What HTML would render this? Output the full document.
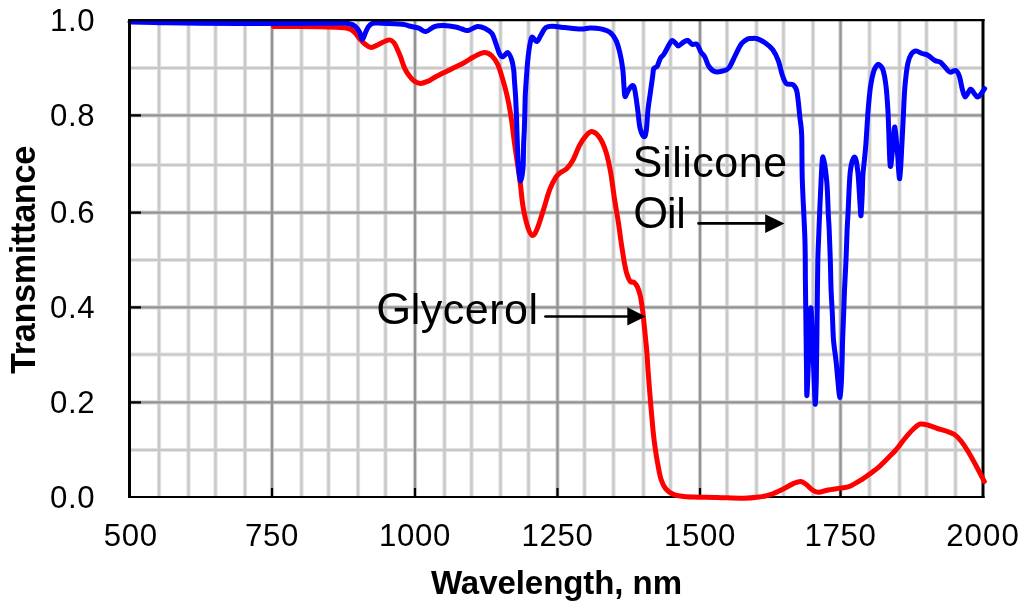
<!DOCTYPE html>
<html><head><meta charset="utf-8"><title>Transmittance vs Wavelength</title>
<style>
html,body{margin:0;padding:0;background:#fff;}
body{width:1024px;height:607px;overflow:hidden;}
svg{display:block;}
text{font-family:"Liberation Sans",Arial,sans-serif;fill:#000;}
</style></head><body>
<svg width="1024" height="607" viewBox="0 0 1024 607">

<rect x="0" y="0" width="1024" height="607" fill="#fff"/>
<g>
<g id="grid">
<line x1="159.00" y1="20" x2="159.00" y2="497" stroke="#e2e2e2" stroke-width="4.20"/>
<line x1="188.50" y1="20" x2="188.50" y2="497" stroke="#e2e2e2" stroke-width="4.20"/>
<line x1="215.50" y1="20" x2="215.50" y2="497" stroke="#e2e2e2" stroke-width="4.20"/>
<line x1="245.00" y1="20" x2="245.00" y2="497" stroke="#e2e2e2" stroke-width="4.20"/>
<line x1="301.50" y1="20" x2="301.50" y2="497" stroke="#e2e2e2" stroke-width="4.20"/>
<line x1="328.50" y1="20" x2="328.50" y2="497" stroke="#e2e2e2" stroke-width="4.20"/>
<line x1="358.00" y1="20" x2="358.00" y2="497" stroke="#e2e2e2" stroke-width="4.20"/>
<line x1="385.50" y1="20" x2="385.50" y2="497" stroke="#e2e2e2" stroke-width="4.20"/>
<line x1="444.50" y1="20" x2="444.50" y2="497" stroke="#e2e2e2" stroke-width="4.20"/>
<line x1="471.50" y1="20" x2="471.50" y2="497" stroke="#e2e2e2" stroke-width="4.20"/>
<line x1="500.50" y1="20" x2="500.50" y2="497" stroke="#e2e2e2" stroke-width="4.20"/>
<line x1="528.50" y1="20" x2="528.50" y2="497" stroke="#e2e2e2" stroke-width="4.20"/>
<line x1="584.50" y1="20" x2="584.50" y2="497" stroke="#e2e2e2" stroke-width="4.20"/>
<line x1="613.50" y1="20" x2="613.50" y2="497" stroke="#e2e2e2" stroke-width="4.20"/>
<line x1="643.50" y1="20" x2="643.50" y2="497" stroke="#e2e2e2" stroke-width="4.20"/>
<line x1="670.50" y1="20" x2="670.50" y2="497" stroke="#e2e2e2" stroke-width="4.20"/>
<line x1="727.00" y1="20" x2="727.00" y2="497" stroke="#e2e2e2" stroke-width="4.20"/>
<line x1="756.50" y1="20" x2="756.50" y2="497" stroke="#e2e2e2" stroke-width="4.20"/>
<line x1="783.50" y1="20" x2="783.50" y2="497" stroke="#e2e2e2" stroke-width="4.20"/>
<line x1="813.00" y1="20" x2="813.00" y2="497" stroke="#e2e2e2" stroke-width="4.20"/>
<line x1="869.50" y1="20" x2="869.50" y2="497" stroke="#e2e2e2" stroke-width="4.20"/>
<line x1="899.50" y1="20" x2="899.50" y2="497" stroke="#e2e2e2" stroke-width="4.20"/>
<line x1="926.50" y1="20" x2="926.50" y2="497" stroke="#e2e2e2" stroke-width="4.20"/>
<line x1="955.50" y1="20" x2="955.50" y2="497" stroke="#e2e2e2" stroke-width="4.20"/>
<line x1="129" y1="68.00" x2="983" y2="68.00" stroke="#e2e2e2" stroke-width="4.20"/>
<line x1="129" y1="165.00" x2="983" y2="165.00" stroke="#e2e2e2" stroke-width="4.20"/>
<line x1="129" y1="260.00" x2="983" y2="260.00" stroke="#e2e2e2" stroke-width="4.20"/>
<line x1="129" y1="354.50" x2="983" y2="354.50" stroke="#e2e2e2" stroke-width="4.20"/>
<line x1="129" y1="450.00" x2="983" y2="450.00" stroke="#e2e2e2" stroke-width="4.20"/>
<line x1="272.00" y1="20" x2="272.00" y2="497" stroke="#d6d6d6" stroke-width="4.20"/>
<line x1="415.00" y1="20" x2="415.00" y2="497" stroke="#d6d6d6" stroke-width="4.20"/>
<line x1="557.50" y1="20" x2="557.50" y2="497" stroke="#d6d6d6" stroke-width="4.20"/>
<line x1="700.00" y1="20" x2="700.00" y2="497" stroke="#d6d6d6" stroke-width="4.20"/>
<line x1="840.50" y1="20" x2="840.50" y2="497" stroke="#d6d6d6" stroke-width="4.20"/>
<line x1="129" y1="115.40" x2="983" y2="115.40" stroke="#d6d6d6" stroke-width="4.20"/>
<line x1="129" y1="212.60" x2="983" y2="212.60" stroke="#d6d6d6" stroke-width="4.20"/>
<line x1="129" y1="307.40" x2="983" y2="307.40" stroke="#d6d6d6" stroke-width="4.20"/>
<line x1="129" y1="402.40" x2="983" y2="402.40" stroke="#d6d6d6" stroke-width="4.20"/>
<line x1="159.00" y1="20" x2="159.00" y2="497" stroke="#c8c8c8" stroke-width="2.20"/>
<line x1="188.50" y1="20" x2="188.50" y2="497" stroke="#c8c8c8" stroke-width="2.20"/>
<line x1="215.50" y1="20" x2="215.50" y2="497" stroke="#c8c8c8" stroke-width="2.20"/>
<line x1="245.00" y1="20" x2="245.00" y2="497" stroke="#c8c8c8" stroke-width="2.20"/>
<line x1="301.50" y1="20" x2="301.50" y2="497" stroke="#c8c8c8" stroke-width="2.20"/>
<line x1="328.50" y1="20" x2="328.50" y2="497" stroke="#c8c8c8" stroke-width="2.20"/>
<line x1="358.00" y1="20" x2="358.00" y2="497" stroke="#c8c8c8" stroke-width="2.20"/>
<line x1="385.50" y1="20" x2="385.50" y2="497" stroke="#c8c8c8" stroke-width="2.20"/>
<line x1="444.50" y1="20" x2="444.50" y2="497" stroke="#c8c8c8" stroke-width="2.20"/>
<line x1="471.50" y1="20" x2="471.50" y2="497" stroke="#c8c8c8" stroke-width="2.20"/>
<line x1="500.50" y1="20" x2="500.50" y2="497" stroke="#c8c8c8" stroke-width="2.20"/>
<line x1="528.50" y1="20" x2="528.50" y2="497" stroke="#c8c8c8" stroke-width="2.20"/>
<line x1="584.50" y1="20" x2="584.50" y2="497" stroke="#c8c8c8" stroke-width="2.20"/>
<line x1="613.50" y1="20" x2="613.50" y2="497" stroke="#c8c8c8" stroke-width="2.20"/>
<line x1="643.50" y1="20" x2="643.50" y2="497" stroke="#c8c8c8" stroke-width="2.20"/>
<line x1="670.50" y1="20" x2="670.50" y2="497" stroke="#c8c8c8" stroke-width="2.20"/>
<line x1="727.00" y1="20" x2="727.00" y2="497" stroke="#c8c8c8" stroke-width="2.20"/>
<line x1="756.50" y1="20" x2="756.50" y2="497" stroke="#c8c8c8" stroke-width="2.20"/>
<line x1="783.50" y1="20" x2="783.50" y2="497" stroke="#c8c8c8" stroke-width="2.20"/>
<line x1="813.00" y1="20" x2="813.00" y2="497" stroke="#c8c8c8" stroke-width="2.20"/>
<line x1="869.50" y1="20" x2="869.50" y2="497" stroke="#c8c8c8" stroke-width="2.20"/>
<line x1="899.50" y1="20" x2="899.50" y2="497" stroke="#c8c8c8" stroke-width="2.20"/>
<line x1="926.50" y1="20" x2="926.50" y2="497" stroke="#c8c8c8" stroke-width="2.20"/>
<line x1="955.50" y1="20" x2="955.50" y2="497" stroke="#c8c8c8" stroke-width="2.20"/>
<line x1="129" y1="68.00" x2="983" y2="68.00" stroke="#c8c8c8" stroke-width="2.20"/>
<line x1="129" y1="165.00" x2="983" y2="165.00" stroke="#c8c8c8" stroke-width="2.20"/>
<line x1="129" y1="260.00" x2="983" y2="260.00" stroke="#c8c8c8" stroke-width="2.20"/>
<line x1="129" y1="354.50" x2="983" y2="354.50" stroke="#c8c8c8" stroke-width="2.20"/>
<line x1="129" y1="450.00" x2="983" y2="450.00" stroke="#c8c8c8" stroke-width="2.20"/>
<line x1="272.00" y1="20" x2="272.00" y2="497" stroke="#939393" stroke-width="2.20"/>
<line x1="415.00" y1="20" x2="415.00" y2="497" stroke="#939393" stroke-width="2.20"/>
<line x1="557.50" y1="20" x2="557.50" y2="497" stroke="#939393" stroke-width="2.20"/>
<line x1="700.00" y1="20" x2="700.00" y2="497" stroke="#939393" stroke-width="2.20"/>
<line x1="840.50" y1="20" x2="840.50" y2="497" stroke="#939393" stroke-width="2.20"/>
<line x1="129" y1="115.40" x2="983" y2="115.40" stroke="#939393" stroke-width="2.20"/>
<line x1="129" y1="212.60" x2="983" y2="212.60" stroke="#939393" stroke-width="2.20"/>
<line x1="129" y1="307.40" x2="983" y2="307.40" stroke="#939393" stroke-width="2.20"/>
<line x1="129" y1="402.40" x2="983" y2="402.40" stroke="#939393" stroke-width="2.20"/>
</g>
<g id="axes1" fill="none" stroke="#000">
<line x1="983" y1="19" x2="983" y2="498" stroke-width="3"/>
<line x1="128" y1="497" x2="984.5" y2="497" stroke-width="2"/>
</g>
<g id="ticks">
<line x1="130" y1="115.40" x2="141" y2="115.40" stroke="#000" stroke-width="2.3"/>
<line x1="130" y1="212.60" x2="141" y2="212.60" stroke="#000" stroke-width="2.3"/>
<line x1="130" y1="307.40" x2="141" y2="307.40" stroke="#000" stroke-width="2.3"/>
<line x1="130" y1="402.40" x2="141" y2="402.40" stroke="#000" stroke-width="2.3"/>
<line x1="272.00" y1="488" x2="272.00" y2="497" stroke="#000" stroke-width="2.2"/>
<line x1="415.00" y1="488" x2="415.00" y2="497" stroke="#000" stroke-width="2.2"/>
<line x1="557.50" y1="488" x2="557.50" y2="497" stroke="#000" stroke-width="2.2"/>
<line x1="700.00" y1="488" x2="700.00" y2="497" stroke="#000" stroke-width="2.2"/>
<line x1="840.50" y1="488" x2="840.50" y2="497" stroke="#000" stroke-width="2.2"/>
</g>
<g id="labels">
<text font-size="31.20" letter-spacing="0.700" text-anchor="end" x="95.40" y="30.50">1.0</text>
<text font-size="31.20" letter-spacing="0.700" text-anchor="end" x="95.40" y="125.70">0.8</text>
<text font-size="31.20" letter-spacing="0.700" text-anchor="end" x="95.40" y="222.70">0.6</text>
<text font-size="31.20" letter-spacing="0.700" text-anchor="end" x="95.40" y="317.50">0.4</text>
<text font-size="31.20" letter-spacing="0.700" text-anchor="end" x="95.40" y="412.70">0.2</text>
<text font-size="31.20" letter-spacing="0.700" text-anchor="end" x="95.40" y="507.70">0.0</text>
<text font-size="31.20" letter-spacing="0.700" text-anchor="middle" x="130.70" y="545.70">500</text>
<text font-size="31.20" letter-spacing="0.700" text-anchor="middle" x="272.00" y="545.70">750</text>
<text font-size="31.20" letter-spacing="0.700" text-anchor="middle" x="415.00" y="545.70">1000</text>
<text font-size="31.20" letter-spacing="0.700" text-anchor="middle" x="557.50" y="545.70">1250</text>
<text font-size="31.20" letter-spacing="0.700" text-anchor="middle" x="700.00" y="545.70">1500</text>
<text font-size="31.20" letter-spacing="0.700" text-anchor="middle" x="840.50" y="545.70">1750</text>
<text font-size="31.20" letter-spacing="1.050" text-anchor="middle" x="983.00" y="545.70">2000</text>
<text font-size="33.00" letter-spacing="-0.060" font-weight="bold" x="431.00" y="593.60">Wavelength, nm</text>
<text font-size="34.30" letter-spacing="-0.360" font-weight="bold" transform="translate(35.00,374.00) rotate(-90)">Transmittance</text>
<text font-size="43.00" letter-spacing="0.500" x="632.60" y="176.90"><tspan font-size="44.90">S</tspan><tspan dx="-0.90">ilicone</tspan></text>
<text font-size="43.00" letter-spacing="-0.350" x="633.30" y="227.90"><tspan font-size="44.90">O</tspan><tspan dx="-0.90">il</tspan></text>
<text font-size="43.00" letter-spacing="0.500" x="376.20" y="323.90"><tspan font-size="44.90">G</tspan><tspan dx="-0.90">lycerol</tspan></text>
</g>
<g id="curves" fill="none" stroke-linejoin="round" stroke-linecap="round">
<path d="M273.50,26.50 C277.92,26.48 292.25,26.37 300.00,26.40 C307.75,26.43 313.33,26.53 320.00,26.70 C326.67,26.87 335.50,27.15 340.00,27.40 C344.50,27.65 345.17,27.85 347.00,28.20 C348.83,28.55 349.63,28.70 351.00,29.50 C352.37,30.30 353.70,31.38 355.20,33.00 C356.70,34.62 358.38,37.37 360.00,39.20 C361.62,41.03 363.05,42.62 364.90,44.00 C366.75,45.38 368.92,47.38 371.10,47.50 C373.28,47.62 375.68,45.73 378.00,44.70 C380.32,43.67 383.03,42.10 385.00,41.30 C386.97,40.50 388.30,39.67 389.80,39.90 C391.30,40.13 392.77,41.18 394.00,42.70 C395.23,44.22 396.10,46.62 397.20,49.00 C398.30,51.38 399.33,53.73 400.60,57.00 C401.87,60.27 403.27,65.35 404.80,68.60 C406.33,71.85 408.15,74.37 409.80,76.50 C411.45,78.63 412.90,80.25 414.70,81.40 C416.50,82.55 418.47,83.40 420.60,83.40 C422.73,83.40 425.18,82.38 427.50,81.40 C429.82,80.42 431.70,78.98 434.50,77.50 C437.30,76.02 441.02,74.15 444.30,72.50 C447.58,70.85 450.90,69.23 454.20,67.60 C457.50,65.97 460.80,64.52 464.10,62.70 C467.40,60.88 470.60,58.40 474.00,56.70 C477.40,55.00 481.50,52.62 484.50,52.50 C487.50,52.38 489.77,53.95 492.00,56.00 C494.23,58.05 496.10,60.87 497.90,64.80 C499.70,68.73 501.32,74.65 502.80,79.60 C504.28,84.55 505.63,89.55 506.80,94.50 C507.97,99.45 508.97,104.72 509.80,109.30 C510.63,113.88 511.03,116.47 511.80,122.00 C512.57,127.53 513.40,135.17 514.40,142.50 C515.40,149.83 516.82,159.18 517.80,166.00 C518.78,172.82 519.42,176.58 520.30,183.40 C521.18,190.22 521.85,199.60 523.10,206.90 C524.35,214.20 526.23,222.43 527.80,227.20 C529.37,231.97 530.93,235.24 532.50,235.50 C534.07,235.76 535.38,233.00 537.20,228.75 C539.02,224.50 541.32,216.51 543.40,210.00 C545.48,203.49 547.62,195.17 549.70,189.70 C551.78,184.23 554.08,180.07 555.90,177.20 C557.72,174.33 558.77,173.93 560.60,172.50 C562.43,171.07 564.83,170.68 566.90,168.60 C568.97,166.52 570.92,163.83 573.00,160.00 C575.08,156.17 577.30,149.56 579.40,145.60 C581.50,141.64 583.52,138.58 585.60,136.25 C587.68,133.92 589.55,131.34 591.90,131.60 C594.25,131.86 597.35,134.42 599.70,137.80 C602.05,141.18 604.18,146.20 606.00,151.90 C607.82,157.60 609.18,164.15 610.60,172.00 C612.02,179.85 613.20,190.58 614.50,199.00 C615.80,207.42 617.35,215.67 618.40,222.50 C619.45,229.33 620.10,235.13 620.80,240.00 C621.50,244.87 621.98,247.80 622.60,251.70 C623.22,255.60 623.78,259.68 624.50,263.40 C625.22,267.12 625.92,270.97 626.90,274.00 C627.88,277.03 629.23,280.23 630.40,281.60 C631.57,282.97 632.73,281.32 633.90,282.20 C635.07,283.08 636.32,284.55 637.40,286.90 C638.48,289.25 639.52,292.28 640.40,296.30 C641.28,300.32 642.07,306.22 642.70,311.00 C643.33,315.78 643.73,320.50 644.20,325.00 C644.67,329.50 645.05,333.37 645.50,338.00 C645.95,342.63 646.47,347.30 646.90,352.80 C647.33,358.30 647.52,363.10 648.10,371.00 C648.68,378.90 649.58,390.37 650.40,400.20 C651.22,410.03 652.22,422.10 653.00,430.00 C653.78,437.90 654.27,441.73 655.10,447.60 C655.93,453.47 657.02,459.93 658.00,465.20 C658.98,470.47 659.73,475.30 661.00,479.20 C662.27,483.10 663.65,486.15 665.60,488.60 C667.55,491.05 669.97,492.63 672.70,493.90 C675.43,495.17 678.48,495.68 682.00,496.20 C685.52,496.72 687.93,496.78 693.80,497.00 C699.67,497.22 708.88,497.28 717.20,497.50 C725.53,497.72 736.72,498.38 743.75,498.30 C750.78,498.22 754.98,497.60 759.40,497.00 C763.82,496.40 766.40,496.00 770.30,494.70 C774.20,493.40 778.89,491.08 782.80,489.20 C786.71,487.32 790.75,484.70 793.75,483.40 C796.75,482.10 798.72,481.22 800.80,481.40 C802.88,481.58 804.30,483.07 806.25,484.50 C808.20,485.93 810.42,488.70 812.50,490.00 C814.58,491.30 816.17,492.30 818.75,492.30 C821.33,492.30 824.36,490.70 828.00,490.00 C831.64,489.30 836.93,488.73 840.60,488.10 C844.27,487.47 846.40,487.67 850.00,486.20 C853.60,484.73 858.78,481.42 862.20,479.30 C865.62,477.18 867.65,475.62 870.50,473.50 C873.35,471.38 876.47,469.10 879.30,466.60 C882.13,464.10 884.67,461.35 887.50,458.50 C890.33,455.65 893.48,452.75 896.30,449.50 C899.12,446.25 901.55,442.42 904.40,439.00 C907.25,435.58 910.72,431.50 913.40,429.00 C916.08,426.50 917.90,424.58 920.50,424.00 C923.10,423.42 926.18,424.75 929.00,425.50 C931.82,426.25 934.57,427.58 937.40,428.50 C940.23,429.42 943.15,430.00 946.00,431.00 C948.85,432.00 952.00,432.83 954.50,434.50 C957.00,436.17 958.73,438.17 961.00,441.00 C963.27,443.83 965.52,447.25 968.10,451.50 C970.68,455.75 973.80,461.50 976.50,466.50 C979.20,471.50 983.00,479.00 984.30,481.50" stroke="#ff0000" stroke-width="5.0"/>
<path d="M130.00,22.00 C135.00,22.12 148.33,22.50 160.00,22.70 C171.67,22.90 181.67,23.07 200.00,23.20 C218.33,23.33 250.00,23.48 270.00,23.50 C290.00,23.52 308.33,23.37 320.00,23.30 C331.67,23.23 334.93,22.98 340.00,23.10 C345.07,23.22 347.87,23.45 350.40,24.00 C352.93,24.55 353.70,25.13 355.20,26.40 C356.70,27.67 358.22,29.40 359.40,31.60 C360.58,33.80 361.27,39.48 362.30,39.60 C363.33,39.72 364.58,34.43 365.60,32.30 C366.62,30.17 367.25,28.30 368.40,26.80 C369.55,25.30 370.32,23.90 372.50,23.30 C374.68,22.70 376.55,23.05 381.50,23.20 C386.45,23.35 397.58,23.73 402.20,24.20 C406.82,24.67 406.44,25.33 409.20,26.00 C411.96,26.67 415.98,27.27 418.75,28.20 C421.52,29.13 423.19,31.87 425.80,31.60 C428.41,31.33 431.41,27.60 434.40,26.60 C437.39,25.60 440.22,25.53 443.75,25.60 C447.28,25.67 452.56,26.43 455.60,27.00 C458.64,27.57 459.93,28.42 462.00,29.00 C464.07,29.58 465.42,30.92 468.00,30.50 C470.58,30.08 474.60,26.82 477.50,26.50 C480.40,26.18 483.00,27.45 485.40,28.60 C487.80,29.75 490.12,30.82 491.90,33.40 C493.68,35.98 494.83,40.70 496.10,44.10 C497.37,47.50 498.35,51.68 499.50,53.80 C500.65,55.92 501.62,57.02 503.00,56.80 C504.38,56.58 506.35,51.98 507.80,52.50 C509.25,53.02 510.72,57.02 511.70,59.90 C512.68,62.78 513.25,66.45 513.70,69.80 C514.15,73.15 514.10,75.80 514.40,80.00 C514.70,84.20 515.22,90.33 515.50,95.00 C515.78,99.67 515.92,103.83 516.10,108.00 C516.28,112.17 516.38,113.83 516.60,120.00 C516.82,126.17 517.10,137.50 517.40,145.00 C517.70,152.50 518.07,160.00 518.40,165.00 C518.73,170.00 519.03,172.33 519.40,175.00 C519.77,177.67 520.13,181.00 520.60,181.00 C521.07,181.00 521.77,177.67 522.20,175.00 C522.63,172.33 522.97,170.00 523.20,165.00 C523.43,160.00 523.42,150.83 523.60,145.00 C523.78,139.17 524.08,135.83 524.30,130.00 C524.52,124.17 524.75,115.50 524.90,110.00 C525.05,104.50 525.08,100.42 525.20,97.00 C525.32,93.58 525.37,93.17 525.60,89.50 C525.83,85.83 526.27,79.58 526.60,75.00 C526.93,70.42 527.20,66.17 527.60,62.00 C528.00,57.83 528.52,53.42 529.00,50.00 C529.48,46.58 529.95,43.67 530.50,41.50 C531.05,39.33 531.22,37.00 532.30,37.00 C533.38,37.00 535.52,41.90 537.00,41.50 C538.48,41.10 539.72,36.93 541.20,34.60 C542.68,32.27 543.93,28.88 545.90,27.50 C547.87,26.12 549.82,26.28 553.00,26.30 C556.18,26.32 560.40,27.15 565.00,27.60 C569.60,28.05 576.43,28.93 580.60,29.00 C584.77,29.07 586.87,28.07 590.00,28.00 C593.13,27.93 596.15,27.93 599.40,28.60 C602.65,29.27 606.77,30.10 609.50,32.00 C612.23,33.90 614.10,36.63 615.80,40.00 C617.50,43.37 618.53,47.30 619.70,52.20 C620.87,57.10 622.08,63.68 622.80,69.40 C623.52,75.12 623.63,81.98 624.00,86.50 C624.37,91.02 624.25,95.92 625.00,96.50 C625.75,97.08 627.25,91.85 628.50,90.00 C629.75,88.15 631.45,85.40 632.50,85.40 C633.55,85.40 633.93,85.97 634.80,90.00 C635.67,94.03 636.83,103.27 637.70,109.60 C638.57,115.93 638.95,123.48 640.00,128.00 C641.05,132.52 642.95,136.30 644.00,136.70 C645.05,137.10 645.63,134.92 646.30,130.40 C646.97,125.88 647.32,115.95 648.00,109.60 C648.68,103.25 649.65,97.68 650.40,92.30 C651.15,86.92 651.93,81.25 652.50,77.30 C653.07,73.35 653.02,70.44 653.80,68.60 C654.58,66.76 656.12,67.95 657.20,66.25 C658.28,64.55 659.13,60.48 660.30,58.40 C661.47,56.32 662.38,56.61 664.20,53.75 C666.03,50.89 669.42,43.08 671.25,41.25 C673.08,39.42 674.03,42.02 675.20,42.80 C676.38,43.57 676.88,46.03 678.30,45.90 C679.72,45.77 682.18,42.90 683.75,42.00 C685.32,41.10 686.28,40.10 687.70,40.50 C689.12,40.90 690.75,43.75 692.30,44.40 C693.85,45.05 695.55,43.10 697.00,44.40 C698.45,45.70 699.70,50.12 701.00,52.20 C702.30,54.28 703.51,54.56 704.80,56.90 C706.09,59.24 707.05,63.78 708.75,66.25 C710.45,68.72 712.66,70.92 715.00,71.70 C717.34,72.48 720.47,71.55 722.80,70.90 C725.13,70.25 726.92,70.40 729.00,67.80 C731.08,65.20 733.20,59.33 735.30,55.30 C737.40,51.27 739.52,46.33 741.60,43.60 C743.68,40.87 746.23,39.75 747.80,38.90 C749.37,38.05 749.43,38.52 751.00,38.50 C752.57,38.48 754.87,38.05 757.20,38.75 C759.53,39.45 762.40,40.88 765.00,42.70 C767.60,44.53 770.58,46.72 772.80,49.70 C775.02,52.68 776.73,56.43 778.30,60.60 C779.87,64.77 780.90,70.92 782.20,74.70 C783.50,78.48 784.28,81.62 786.10,83.30 C787.92,84.98 791.28,83.37 793.10,84.80 C794.92,86.23 795.87,86.43 797.00,91.90 C798.13,97.37 799.12,110.38 799.90,117.60 C800.68,124.82 801.30,124.80 801.70,135.20 C802.10,145.60 801.77,162.70 802.30,180.00 C802.83,197.30 804.38,222.33 804.90,239.00 C805.42,255.67 805.22,264.83 805.40,280.00 C805.58,295.17 805.82,315.00 806.00,330.00 C806.18,345.00 806.35,359.08 806.50,370.00 C806.65,380.92 806.57,397.17 806.90,395.50 C807.23,393.83 807.87,374.58 808.50,360.00 C809.13,345.42 810.03,311.33 810.70,308.00 C811.37,304.67 811.87,326.33 812.50,340.00 C813.13,353.67 814.03,379.33 814.50,390.00 C814.97,400.67 815.00,405.67 815.30,404.00 C815.60,402.33 816.05,390.00 816.30,380.00 C816.55,370.00 816.63,357.33 816.80,344.00 C816.97,330.67 817.13,313.67 817.30,300.00 C817.47,286.33 817.58,272.17 817.80,262.00 C818.02,251.83 818.05,252.67 818.60,239.00 C819.15,225.33 820.35,193.70 821.10,180.00 C821.85,166.30 822.15,156.47 823.10,156.80 C824.05,157.13 825.93,172.47 826.80,182.00 C827.67,191.53 827.90,206.00 828.30,214.00 C828.70,222.00 828.87,222.33 829.20,230.00 C829.53,237.67 829.98,250.00 830.30,260.00 C830.62,270.00 830.75,280.83 831.10,290.00 C831.45,299.17 832.00,306.67 832.40,315.00 C832.80,323.33 832.88,332.27 833.50,340.00 C834.12,347.73 835.33,354.23 836.10,361.40 C836.87,368.57 837.50,376.98 838.10,383.00 C838.70,389.02 839.18,397.17 839.70,397.50 C840.22,397.83 840.80,391.08 841.20,385.00 C841.60,378.92 841.87,368.50 842.10,361.00 C842.33,353.50 842.35,347.67 842.60,340.00 C842.85,332.33 843.28,323.33 843.60,315.00 C843.92,306.67 844.10,299.17 844.50,290.00 C844.90,280.83 845.57,270.00 846.00,260.00 C846.43,250.00 846.77,237.67 847.10,230.00 C847.43,222.33 847.47,223.77 848.00,214.00 C848.53,204.23 849.20,180.90 850.30,171.40 C851.40,161.90 853.35,157.00 854.60,157.00 C855.85,157.00 856.90,163.65 857.80,171.40 C858.70,179.15 859.47,196.15 860.00,203.50 C860.53,210.85 860.63,216.92 861.00,215.50 C861.37,214.08 861.88,201.75 862.20,195.00 C862.52,188.25 862.53,180.83 862.90,175.00 C863.27,169.17 863.90,165.18 864.40,160.00 C864.90,154.82 865.33,151.52 865.90,143.90 C866.47,136.28 867.28,121.62 867.80,114.30 C868.32,106.98 868.50,104.95 869.00,100.00 C869.50,95.05 870.05,89.27 870.80,84.60 C871.55,79.93 872.63,75.02 873.50,72.00 C874.37,68.98 875.12,67.75 876.00,66.50 C876.88,65.25 877.63,63.92 878.80,64.50 C879.97,65.08 881.80,66.42 883.00,70.00 C884.20,73.58 885.18,79.33 886.00,86.00 C886.82,92.67 887.45,102.72 887.90,110.00 C888.35,117.28 888.30,120.32 888.70,129.70 C889.10,139.08 889.58,163.83 890.30,166.30 C891.02,168.77 892.25,151.05 893.00,144.50 C893.75,137.95 894.07,125.75 894.80,127.00 C895.53,128.25 896.58,143.40 897.40,152.00 C898.22,160.60 898.95,179.85 899.70,178.60 C900.45,177.35 901.28,155.13 901.90,144.50 C902.52,133.87 902.90,124.40 903.40,114.80 C903.90,105.20 904.17,95.47 904.90,86.90 C905.63,78.33 906.73,68.87 907.80,63.40 C908.87,57.93 909.93,56.15 911.30,54.10 C912.67,52.05 914.23,51.20 916.00,51.10 C917.77,51.00 919.93,52.82 921.90,53.50 C923.87,54.18 925.65,54.03 927.80,55.20 C929.95,56.37 932.67,59.32 934.80,60.50 C936.93,61.68 938.85,61.13 940.60,62.30 C942.35,63.47 943.73,65.85 945.30,67.50 C946.87,69.15 948.23,71.70 950.00,72.20 C951.77,72.70 954.33,69.82 955.90,70.50 C957.47,71.18 958.33,73.18 959.40,76.30 C960.47,79.42 961.32,85.77 962.30,89.20 C963.28,92.63 963.93,96.90 965.30,96.90 C966.67,96.90 968.95,89.70 970.50,89.20 C972.05,88.70 973.32,92.62 974.60,93.90 C975.88,95.18 976.53,97.78 978.20,96.90 C979.87,96.03 983.53,90.03 984.60,88.65" stroke="#0000ff" stroke-width="5.0"/>
</g>
<g id="axes2" fill="none" stroke="#000">
<line x1="129.5" y1="19" x2="129.5" y2="498" stroke-width="3"/>
<line x1="128" y1="20.1" x2="984.5" y2="20.1" stroke-width="2.4"/>
</g>
<g id="arrows">
<line x1="698.5" y1="223.4" x2="767" y2="223.4" stroke="#000" stroke-width="2.6" stroke-linecap="round"/>
<polygon points="765.2,214.2 784.4,223.6 765.2,232.9" fill="#000"/>
<line x1="545.4" y1="316.5" x2="629" y2="316.5" stroke="#000" stroke-width="2.6" stroke-linecap="round"/>
<polygon points="627.3,307.3 645.6,316.5 627.3,325.6" fill="#000"/>
</g>
</g>
</svg>
</body></html>
